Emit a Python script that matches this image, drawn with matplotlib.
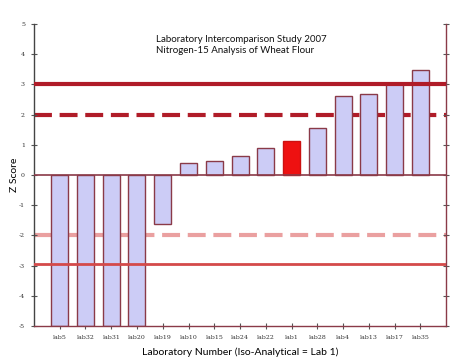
import matplotlib
matplotlib.use("Agg")
import matplotlib.pyplot as plt

labs = ["lab5", "lab32", "lab31", "lab20", "lab19", "lab10", "lab15", "lab24",
        "lab22", "lab1", "lab28", "lab4", "lab13", "lab17", "lab35"]
zscores = [-5.0, -5.0, -5.0, -5.0, -1.61, 0.40, 0.46, 0.62,
           0.88, 1.13, 1.57, 2.63, 2.68, 3.0, 3.49]
highlight = "lab1"
yticks = [-5, -4, -3, -2, -1, 0, 1, 2, 3, 4, 5]

fig = plt.figure(figsize=(4.74, 3.62), dpi=100)
ax = fig.add_axes([0.0717, 0.0994, 0.8693, 0.8343])

pos = list(range(1, len(labs) + 1))
colors = ["#ee1111" if l == highlight else "#ccccf6" for l in labs]
edges = ["#cc1111" if l == highlight else "#8a3a48" for l in labs]
ax.bar(pos, zscores, width=0.66, color=colors, edgecolor=edges, linewidth=1.0, zorder=2)

ax.axhline(3, color="#b01c28", lw=3, zorder=3)
ax.axhline(2, color="#b01c28", lw=3, dashes=(4.3, 1.85), zorder=1)
ax.axhline(-2, color="#eaa0a0", lw=3, dashes=(4.3, 1.85), zorder=1)
ax.axhline(-2.95, color="#d44a4a", lw=2, zorder=3)
ax.axhline(0, color="#8a3a48", lw=1.2, zorder=4)

ax.set_xlim(0, 16)
ax.set_ylim(-5, 5)
ax.set_xticks(pos)
ax.set_xticklabels(labs, fontsize=4.5, family="DejaVu Serif", color="#333333")
ax.set_yticks(yticks)
ax.set_yticklabels([str(v) for v in yticks], fontsize=4.5, family="DejaVu Serif", color="#333333")
ax.tick_params(axis="both", direction="inout", length=5, width=0.8, color="#555555", pad=4)
ax.tick_params(axis="y", right=True)

ax.spines["top"].set_visible(False)
ax.spines["left"].set_color("#444444")
ax.spines["bottom"].set_color("#8a3a48")
ax.spines["right"].set_color("#8a3a48")
for s in ["left", "bottom", "right"]:
    ax.spines[s].set_linewidth(1.0)

ax.text(0.295, 0.965, "Laboratory Intercomparison Study 2007\nNitrogen-15 Analysis of Wheat Flour",
        transform=ax.transAxes, fontsize=7, family="Lato", va="top", ha="left",
        color="#111111", linespacing=1.35)

ax.set_xlabel("Laboratory Number (Iso-Analytical = Lab 1)", fontsize=7.5, family="Lato", labelpad=5)
ax.set_ylabel("Z Score", fontsize=7.5, family="Lato", labelpad=0)

fig.savefig("out.png", dpi=100)
